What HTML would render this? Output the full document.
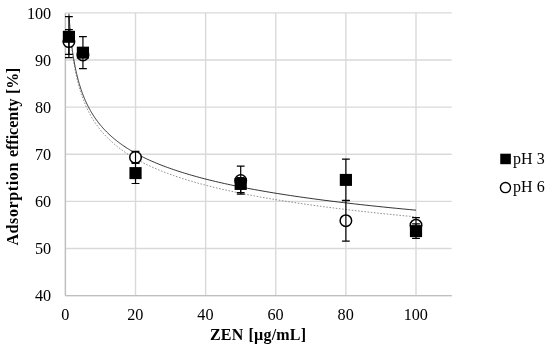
<!DOCTYPE html>
<html><head><meta charset="utf-8"><title>Adsorption efficiency chart</title>
<style>html,body{margin:0;padding:0;background:#fff;}body{width:550px;height:350px;position:relative;overflow:hidden;}</style>
</head><body>
<svg width="550" height="350" viewBox="0 0 550 350" style="position:absolute;left:0;top:0">
<line x1="65.40" y1="295.62" x2="451.70" y2="295.62" stroke="#d9d9d9" stroke-width="1.4"/>
<line x1="65.40" y1="248.50" x2="451.70" y2="248.50" stroke="#d9d9d9" stroke-width="1.4"/>
<line x1="65.40" y1="201.38" x2="451.70" y2="201.38" stroke="#d9d9d9" stroke-width="1.4"/>
<line x1="65.40" y1="154.26" x2="451.70" y2="154.26" stroke="#d9d9d9" stroke-width="1.4"/>
<line x1="65.40" y1="107.14" x2="451.70" y2="107.14" stroke="#d9d9d9" stroke-width="1.4"/>
<line x1="65.40" y1="60.02" x2="451.70" y2="60.02" stroke="#d9d9d9" stroke-width="1.4"/>
<line x1="65.40" y1="12.90" x2="451.70" y2="12.90" stroke="#d9d9d9" stroke-width="1.4"/>
<line x1="65.40" y1="12.90" x2="65.40" y2="295.62" stroke="#d9d9d9" stroke-width="1.4"/>
<line x1="135.52" y1="12.90" x2="135.52" y2="295.62" stroke="#d9d9d9" stroke-width="1.4"/>
<line x1="205.64" y1="12.90" x2="205.64" y2="295.62" stroke="#d9d9d9" stroke-width="1.4"/>
<line x1="275.76" y1="12.90" x2="275.76" y2="295.62" stroke="#d9d9d9" stroke-width="1.4"/>
<line x1="345.88" y1="12.90" x2="345.88" y2="295.62" stroke="#d9d9d9" stroke-width="1.4"/>
<line x1="416.00" y1="12.90" x2="416.00" y2="295.62" stroke="#d9d9d9" stroke-width="1.4"/>
<line x1="65.40" y1="295.62" x2="451.70" y2="295.62" stroke="#bfbfbf" stroke-width="1.3"/>
<line x1="65.40" y1="12.90" x2="65.40" y2="295.62" stroke="#bfbfbf" stroke-width="1.3"/>
<path d="M68.91,13.65 L68.97,14.72 L69.04,15.78 L69.11,16.84 L69.19,17.89 L69.26,18.95 L69.34,20.00 L69.41,21.05 L69.49,22.09 L69.57,23.14 L69.65,24.18 L69.73,25.22 L69.82,26.26 L69.90,27.29 L69.99,28.32 L70.08,29.35 L70.17,30.38 L70.26,31.41 L70.36,32.43 L70.46,33.45 L70.55,34.47 L70.65,35.49 L70.76,36.50 L70.86,37.51 L70.97,38.52 L71.08,39.53 L71.19,40.53 L71.30,41.54 L71.41,42.54 L71.53,43.54 L71.65,44.53 L71.77,45.52 L71.90,46.52 L72.02,47.51 L72.15,48.49 L72.28,49.48 L72.42,50.46 L72.55,51.44 L72.69,52.42 L72.83,53.39 L72.98,54.37 L73.13,55.34 L73.28,56.31 L73.43,57.27 L73.58,58.24 L73.74,59.20 L73.91,60.16 L74.07,61.12 L74.24,62.08 L74.41,63.03 L74.59,63.98 L74.77,64.93 L74.95,65.88 L75.13,66.82 L75.32,67.77 L75.52,68.71 L75.71,69.65 L75.91,70.58 L76.12,71.52 L76.33,72.45 L76.54,73.38 L76.76,74.31 L76.98,75.24 L77.20,76.16 L77.43,77.08 L77.67,78.00 L77.91,78.92 L78.15,79.84 L78.40,80.75 L78.65,81.66 L78.91,82.57 L79.17,83.48 L79.44,84.38 L79.71,85.29 L79.99,86.19 L80.27,87.09 L80.56,87.99 L80.86,88.88 L81.16,89.77 L81.47,90.67 L81.78,91.56 L82.10,92.44 L82.42,93.33 L82.75,94.21 L83.09,95.09 L83.43,95.97 L83.79,96.85 L84.14,97.72 L84.51,98.60 L84.88,99.47 L85.26,100.34 L85.65,101.21 L86.04,102.07 L86.44,102.93 L86.85,103.80 L87.27,104.66 L87.69,105.51 L88.13,106.37 L88.57,107.22 L89.02,108.08 L89.48,108.93 L89.95,109.77 L90.42,110.62 L90.91,111.46 L91.41,112.31 L91.91,113.15 L92.43,113.98 L92.96,114.82 L93.49,115.66 L94.04,116.49 L94.60,117.32 L95.16,118.15 L95.74,118.98 L96.33,119.80 L96.93,120.62 L97.55,121.45 L98.17,122.27 L98.81,123.08 L99.46,123.90 L100.12,124.71 L100.80,125.53 L101.49,126.34 L102.19,127.15 L102.91,127.95 L103.64,128.76 L104.38,129.56 L105.14,130.36 L105.91,131.16 L106.70,131.96 L107.50,132.76 L108.32,133.55 L109.16,134.34 L110.01,135.13 L110.88,135.92 L111.76,136.71 L112.66,137.49 L113.58,138.28 L114.52,139.06 L115.48,139.84 L116.45,140.62 L117.44,141.39 L118.46,142.17 L119.49,142.94 L120.54,143.71 L121.61,144.48 L122.71,145.25 L123.82,146.01 L124.96,146.78 L126.12,147.54 L127.30,148.30 L128.50,149.06 L129.73,149.82 L130.98,150.57 L132.26,151.33 L133.56,152.08 L134.88,152.83 L136.24,153.58 L137.61,154.33 L139.02,155.07 L140.45,155.82 L141.91,156.56 L143.40,157.30 L144.92,158.04 L146.46,158.77 L148.04,159.51 L149.65,160.24 L151.29,160.97 L152.96,161.70 L154.66,162.43 L156.40,163.16 L158.17,163.89 L159.97,164.61 L161.81,165.33 L163.69,166.05 L165.60,166.77 L167.55,167.49 L169.54,168.20 L171.57,168.92 L173.63,169.63 L175.74,170.34 L177.88,171.05 L180.07,171.76 L182.30,172.46 L184.58,173.17 L186.90,173.87 L189.26,174.57 L191.67,175.27 L194.13,175.97 L196.63,176.67 L199.18,177.36 L201.79,178.06 L204.44,178.75 L207.14,179.44 L209.90,180.13 L212.71,180.81 L215.58,181.50 L218.50,182.18 L221.48,182.86 L224.52,183.55 L227.61,184.22 L230.77,184.90 L233.99,185.58 L237.27,186.25 L240.61,186.93 L244.02,187.60 L247.49,188.27 L251.04,188.94 L254.65,189.60 L258.33,190.27 L262.08,190.93 L265.91,191.60 L269.81,192.26 L273.79,192.92 L277.84,193.58 L281.97,194.23 L286.19,194.89 L290.48,195.54 L294.86,196.19 L299.33,196.84 L303.88,197.49 L308.52,198.14 L313.25,198.79 L318.07,199.43 L322.99,200.08 L328.00,200.72 L333.11,201.36 L338.31,202.00 L343.62,202.64 L349.04,203.27 L354.55,203.91 L360.18,204.54 L365.92,205.17 L371.76,205.80 L377.72,206.43 L383.80,207.06 L389.99,207.69 L396.31,208.31 L402.75,208.93 L409.31,209.56 L416.00,210.18" fill="none" stroke="#111" stroke-width="0.85" />
<path d="M68.91,14.78 L68.97,15.89 L69.04,16.99 L69.11,18.09 L69.19,19.19 L69.26,20.28 L69.34,21.37 L69.41,22.46 L69.49,23.55 L69.57,24.63 L69.65,25.72 L69.73,26.79 L69.82,27.87 L69.90,28.94 L69.99,30.02 L70.08,31.08 L70.17,32.15 L70.26,33.21 L70.36,34.28 L70.46,35.33 L70.55,36.39 L70.65,37.44 L70.76,38.50 L70.86,39.54 L70.97,40.59 L71.08,41.64 L71.19,42.68 L71.30,43.72 L71.41,44.75 L71.53,45.79 L71.65,46.82 L71.77,47.85 L71.90,48.87 L72.02,49.90 L72.15,50.92 L72.28,51.94 L72.42,52.96 L72.55,53.97 L72.69,54.98 L72.83,55.99 L72.98,57.00 L73.13,58.01 L73.28,59.01 L73.43,60.01 L73.58,61.01 L73.74,62.00 L73.91,63.00 L74.07,63.99 L74.24,64.98 L74.41,65.97 L74.59,66.95 L74.77,67.93 L74.95,68.91 L75.13,69.89 L75.32,70.86 L75.52,71.84 L75.71,72.81 L75.91,73.77 L76.12,74.74 L76.33,75.70 L76.54,76.66 L76.76,77.62 L76.98,78.58 L77.20,79.53 L77.43,80.49 L77.67,81.44 L77.91,82.38 L78.15,83.33 L78.40,84.27 L78.65,85.21 L78.91,86.15 L79.17,87.09 L79.44,88.02 L79.71,88.96 L79.99,89.89 L80.27,90.82 L80.56,91.74 L80.86,92.66 L81.16,93.59 L81.47,94.50 L81.78,95.42 L82.10,96.34 L82.42,97.25 L82.75,98.16 L83.09,99.07 L83.43,99.97 L83.79,100.88 L84.14,101.78 L84.51,102.68 L84.88,103.58 L85.26,104.47 L85.65,105.37 L86.04,106.26 L86.44,107.15 L86.85,108.04 L87.27,108.92 L87.69,109.80 L88.13,110.68 L88.57,111.56 L89.02,112.44 L89.48,113.32 L89.95,114.19 L90.42,115.06 L90.91,115.93 L91.41,116.79 L91.91,117.66 L92.43,118.52 L92.96,119.38 L93.49,120.24 L94.04,121.10 L94.60,121.95 L95.16,122.80 L95.74,123.65 L96.33,124.50 L96.93,125.35 L97.55,126.19 L98.17,127.04 L98.81,127.88 L99.46,128.71 L100.12,129.55 L100.80,130.39 L101.49,131.22 L102.19,132.05 L102.91,132.88 L103.64,133.70 L104.38,134.53 L105.14,135.35 L105.91,136.17 L106.70,136.99 L107.50,137.81 L108.32,138.62 L109.16,139.44 L110.01,140.25 L110.88,141.06 L111.76,141.86 L112.66,142.67 L113.58,143.47 L114.52,144.28 L115.48,145.08 L116.45,145.87 L117.44,146.67 L118.46,147.46 L119.49,148.26 L120.54,149.05 L121.61,149.84 L122.71,150.62 L123.82,151.41 L124.96,152.19 L126.12,152.97 L127.30,153.75 L128.50,154.53 L129.73,155.30 L130.98,156.08 L132.26,156.85 L133.56,157.62 L134.88,158.39 L136.24,159.16 L137.61,159.92 L139.02,160.68 L140.45,161.44 L141.91,162.20 L143.40,162.96 L144.92,163.72 L146.46,164.47 L148.04,165.22 L149.65,165.97 L151.29,166.72 L152.96,167.47 L154.66,168.22 L156.40,168.96 L158.17,169.70 L159.97,170.44 L161.81,171.18 L163.69,171.92 L165.60,172.65 L167.55,173.38 L169.54,174.11 L171.57,174.84 L173.63,175.57 L175.74,176.30 L177.88,177.02 L180.07,177.75 L182.30,178.47 L184.58,179.19 L186.90,179.90 L189.26,180.62 L191.67,181.33 L194.13,182.05 L196.63,182.76 L199.18,183.47 L201.79,184.17 L204.44,184.88 L207.14,185.59 L209.90,186.29 L212.71,186.99 L215.58,187.69 L218.50,188.39 L221.48,189.08 L224.52,189.78 L227.61,190.47 L230.77,191.16 L233.99,191.85 L237.27,192.54 L240.61,193.22 L244.02,193.91 L247.49,194.59 L251.04,195.27 L254.65,195.95 L258.33,196.63 L262.08,197.31 L265.91,197.98 L269.81,198.66 L273.79,199.33 L277.84,200.00 L281.97,200.67 L286.19,201.33 L290.48,202.00 L294.86,202.66 L299.33,203.33 L303.88,203.99 L308.52,204.65 L313.25,205.30 L318.07,205.96 L322.99,206.61 L328.00,207.27 L333.11,207.92 L338.31,208.57 L343.62,209.22 L349.04,209.87 L354.55,210.51 L360.18,211.15 L365.92,211.80 L371.76,212.44 L377.72,213.08 L383.80,213.72 L389.99,214.35 L396.31,214.99 L402.75,215.62 L409.31,216.25 L416.00,216.88" fill="none" stroke="#555" stroke-width="0.65" stroke-dasharray="1.6 1.6"/>
<circle cx="68.91" cy="41.60" r="5.75" fill="#fff" stroke="#000" stroke-width="1.5"/>
<circle cx="82.93" cy="55.00" r="5.75" fill="#fff" stroke="#000" stroke-width="1.5"/>
<circle cx="135.52" cy="157.40" r="5.75" fill="#fff" stroke="#000" stroke-width="1.5"/>
<circle cx="240.70" cy="180.60" r="5.75" fill="#fff" stroke="#000" stroke-width="1.5"/>
<circle cx="345.88" cy="220.70" r="5.75" fill="#fff" stroke="#000" stroke-width="1.5"/>
<circle cx="416.00" cy="225.20" r="5.75" fill="#fff" stroke="#000" stroke-width="1.5"/>
<path d="M68.91,16.60 V57.60 M65.01,16.60 H72.81 M65.01,57.60 H72.81" stroke="#000" stroke-width="1.2" fill="none"/>
<path d="M82.93,36.70 V68.60 M79.03,36.70 H86.83 M79.03,68.60 H86.83" stroke="#000" stroke-width="1.2" fill="none"/>
<path d="M135.52,162.70 V183.50 M131.62,162.70 H139.42 M131.62,183.50 H139.42" stroke="#000" stroke-width="1.2" fill="none"/>
<path d="M240.70,177.50 V194.20 M236.80,177.50 H244.60 M236.80,194.20 H244.60" stroke="#000" stroke-width="1.2" fill="none"/>
<path d="M345.88,159.10 V200.70 M341.98,159.10 H349.78 M341.98,200.70 H349.78" stroke="#000" stroke-width="1.2" fill="none"/>
<path d="M416.00,223.90 V238.30 M412.10,223.90 H419.90 M412.10,238.30 H419.90" stroke="#000" stroke-width="1.2" fill="none"/>
<rect x="62.81" y="30.80" width="12.2" height="12" fill="#000"/>
<rect x="76.83" y="46.65" width="12.2" height="12" fill="#000"/>
<rect x="129.42" y="167.10" width="12.2" height="12" fill="#000"/>
<rect x="234.60" y="177.95" width="12.2" height="12" fill="#000"/>
<rect x="339.78" y="173.90" width="12.2" height="12" fill="#000"/>
<rect x="409.90" y="225.10" width="12.2" height="12" fill="#000"/>
<path d="M68.91,29.60 V54.30 M65.01,29.60 H72.81 M65.01,54.30 H72.81" stroke="#000" stroke-width="1.2" fill="none"/>
<path d="M135.52,151.40 V163.40 M131.62,151.40 H139.42 M131.62,163.40 H139.42" stroke="#000" stroke-width="1.2" fill="none"/>
<path d="M240.70,166.10 V192.60 M236.80,166.10 H244.60 M236.80,192.60 H244.60" stroke="#000" stroke-width="1.2" fill="none"/>
<path d="M345.88,200.30 V241.10 M341.98,200.30 H349.78 M341.98,241.10 H349.78" stroke="#000" stroke-width="1.2" fill="none"/>
<path d="M416.00,217.60 V232.60 M412.10,217.60 H419.90 M412.10,232.60 H419.90" stroke="#000" stroke-width="1.2" fill="none"/>
<rect x="500.25" y="153.7" width="10.6" height="10.5" fill="#000"/>
<circle cx="505.45" cy="187.6" r="5.05" fill="#fff" stroke="#000" stroke-width="1.4"/>
<text x="51.2" y="301.32" text-anchor="end" font-family="'Liberation Serif','Times New Roman',serif" font-size="16.2" fill="#000">40</text>
<text x="51.2" y="254.20" text-anchor="end" font-family="'Liberation Serif','Times New Roman',serif" font-size="16.2" fill="#000">50</text>
<text x="51.2" y="207.08" text-anchor="end" font-family="'Liberation Serif','Times New Roman',serif" font-size="16.2" fill="#000">60</text>
<text x="51.2" y="159.96" text-anchor="end" font-family="'Liberation Serif','Times New Roman',serif" font-size="16.2" fill="#000">70</text>
<text x="51.2" y="112.84" text-anchor="end" font-family="'Liberation Serif','Times New Roman',serif" font-size="16.2" fill="#000">80</text>
<text x="51.2" y="65.72" text-anchor="end" font-family="'Liberation Serif','Times New Roman',serif" font-size="16.2" fill="#000">90</text>
<text x="51.2" y="18.60" text-anchor="end" font-family="'Liberation Serif','Times New Roman',serif" font-size="16.2" fill="#000">100</text>
<text x="65.20" y="320.4" text-anchor="middle" font-family="'Liberation Serif','Times New Roman',serif" font-size="16.2" fill="#000">0</text>
<text x="135.32" y="320.4" text-anchor="middle" font-family="'Liberation Serif','Times New Roman',serif" font-size="16.2" fill="#000">20</text>
<text x="205.44" y="320.4" text-anchor="middle" font-family="'Liberation Serif','Times New Roman',serif" font-size="16.2" fill="#000">40</text>
<text x="275.56" y="320.4" text-anchor="middle" font-family="'Liberation Serif','Times New Roman',serif" font-size="16.2" fill="#000">60</text>
<text x="345.68" y="320.4" text-anchor="middle" font-family="'Liberation Serif','Times New Roman',serif" font-size="16.2" fill="#000">80</text>
<text x="415.80" y="320.4" text-anchor="middle" font-family="'Liberation Serif','Times New Roman',serif" font-size="16.2" fill="#000">100</text>
<text y="339.8" font-weight="bold" font-family="'Liberation Serif','Times New Roman',serif" font-size="16" fill="#000"><tspan x="210.1" letter-spacing="0.1">ZEN </tspan><tspan x="248.5" letter-spacing="0.2">[µg/mL]</tspan></text>
<text transform="translate(18.2,0) rotate(-90)" font-weight="bold" font-family="'Liberation Serif','Times New Roman',serif" font-size="16" fill="#000"><tspan x="-245.6" letter-spacing="0.62">Adsorption </tspan><tspan x="-157.1">efficenty </tspan><tspan x="-93.9" letter-spacing="-0.3">[%]</tspan></text>
<text x="513.1" y="164.1" font-family="'Liberation Serif','Times New Roman',serif" font-size="16" fill="#000">pH 3</text>
<text x="513.1" y="192.4" font-family="'Liberation Serif','Times New Roman',serif" font-size="16" fill="#000">pH 6</text>
</svg>
</body></html>
